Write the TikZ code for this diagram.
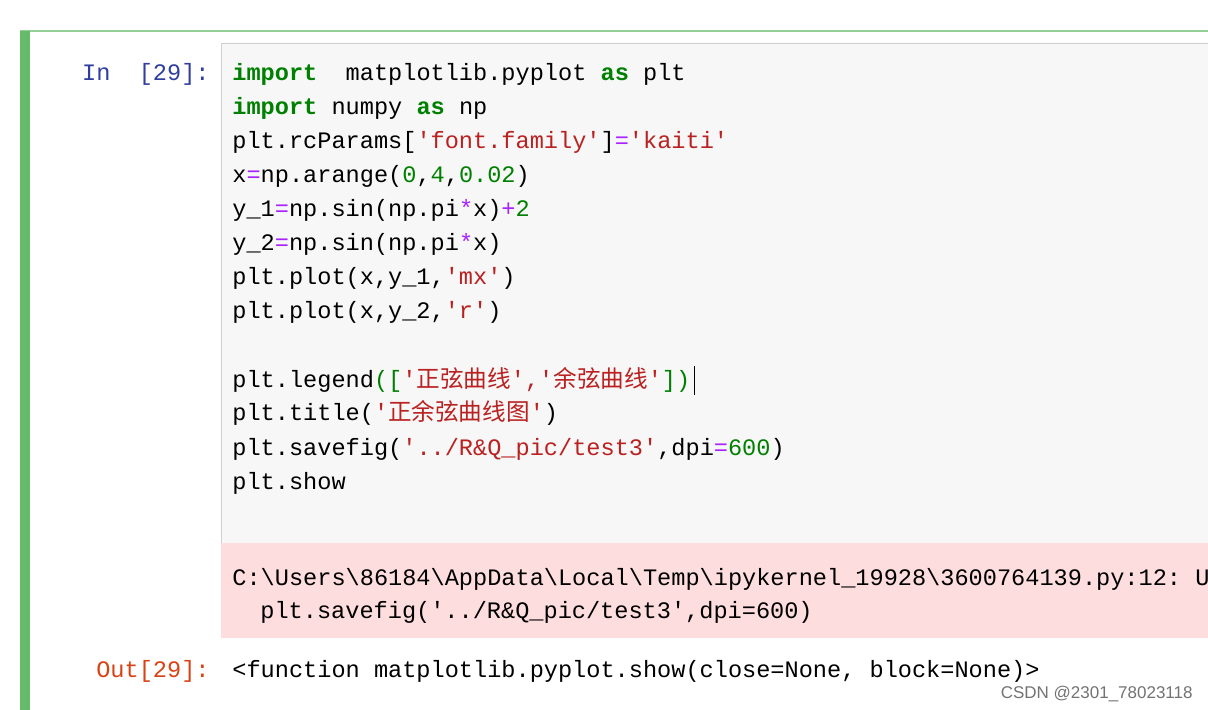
\documentclass[tikz,border=0pt]{standalone}
\usepackage{fontspec}
\setmonofont{Liberation Mono}
\newfontfamily\cjk{Noto Sans CJK SC}
\newfontfamily\wmfont{Liberation Sans}
\definecolor{kwgreen}{HTML}{008000}
\definecolor{strred}{HTML}{BA2121}
\definecolor{oppurple}{HTML}{AA22FF}
\definecolor{promptblue}{HTML}{303F9F}
\definecolor{promptred}{HTML}{D84315}
\definecolor{cellgreen}{HTML}{66BB6A}
\definecolor{codebg}{HTML}{F7F7F7}
\definecolor{codeborder}{HTML}{CFCFCF}
\definecolor{errbg}{HTML}{FDDDDD}
\newcommand\kw[1]{\textcolor{kwgreen}{\textbf{#1}}}
\newcommand\st[1]{\textcolor{strred}{#1}}
\newcommand\nm[1]{\textcolor{kwgreen}{#1}}
\newcommand\op[1]{\textcolor{oppurple}{#1}}
\begin{document}
\begin{tikzpicture}[x=0.5pt,y=-0.5pt,
    codeline/.style={anchor=base west,inner sep=0pt,font=\ttfamily\fontsize{11.8}{14}\selectfont},
    prompt/.style={anchor=base east,inner sep=0pt,font=\ttfamily\fontsize{11.8}{14}\selectfont}]
  \useasboundingbox (0,0) rectangle (1208,710);
  \clip (0,0) rectangle (1208,710);
  % cell frame
  \fill[white] (0,0) rectangle (1208,710);
  \draw[cellgreen!70,line width=1pt] (20,31) -- (1208,31);
  \fill[cellgreen] (20,31) rectangle (30,710);
  \filldraw[fill=codebg,draw=codeborder] (221,43) rectangle (1212,543);
  \fill[errbg] (221,543) rectangle (1212,638);

  % prompts
  \node[prompt,text=promptblue] (inp) at (210,81) {In\ \ [29]:};
  \node[prompt,text=promptred] (outp) at (210,677) {Out[29]:};

  % code
  \node[codeline] (l1) at (232,81) {\kw{import}\ \ matplotlib.pyplot \kw{as} plt};
  \node[codeline] (l2) at (232,115) {\kw{import} numpy \kw{as} np};
  \node[codeline] (l3) at (232,149) {plt.rcParams[\st{'font.family'}]\op{=}\st{'kaiti'}};
  \node[codeline] (l4) at (232,183) {x\op{=}np.arange(\nm{0},\nm{4},\nm{0.02})};
  \node[codeline] (l5) at (232,217) {y\_1\op{=}np.sin(np.pi\op{*}x)\op{+}\nm{2}};
  \node[codeline] (l6) at (232,251) {y\_2\op{=}np.sin(np.pi\op{*}x)};
  \node[codeline] (l7) at (232,285) {plt.plot(x,y\_1,\st{'mx'})};
  \node[codeline] (l8) at (232,319) {plt.plot(x,y\_2,\st{'r'})};
  \node[codeline] (legend) at (232,387) {plt.legend\textcolor{kwgreen}{([}\st{'{\cjk 正弦曲线}','{\cjk 余弦曲线}'}\textcolor{kwgreen}{])}};
  \node[codeline] (l11) at (232,421) {plt.title(\st{'{\cjk 正余弦曲线图}'})};
  \node[codeline] (l12) at (232,455) {plt.savefig(\st{'../R\&Q\_pic/test3'},dpi\op{=}\nm{600})};
  \node[codeline] (l13) at (232,489) {plt.show};
  \draw[black,line width=0.7pt] ([xshift=2pt]legend.east |- 0,366) -- ([xshift=2pt]legend.east |- 0,395);

  % warning output
  \node[codeline] (err1) at (232,585) {C:\textbackslash Users\textbackslash 86184\textbackslash AppData\textbackslash Local\textbackslash Temp\textbackslash ipykernel\_19928\textbackslash 3600764139.py:12: UserWarning};
  \node[codeline] (err2) at (260,618) {plt.savefig('../R\&Q\_pic/test3',dpi=600)};

  % result
  \node[codeline] (res) at (232,677) {<function matplotlib.pyplot.show(close=None, block=None)>};

  \node[anchor=base east,inner sep=0pt,text=black!55,font=\wmfont\fontsize{8.5}{10}\selectfont] (mark) at (1193,698) {CSDN @2301\_78023118};
\end{tikzpicture}
\end{document}
